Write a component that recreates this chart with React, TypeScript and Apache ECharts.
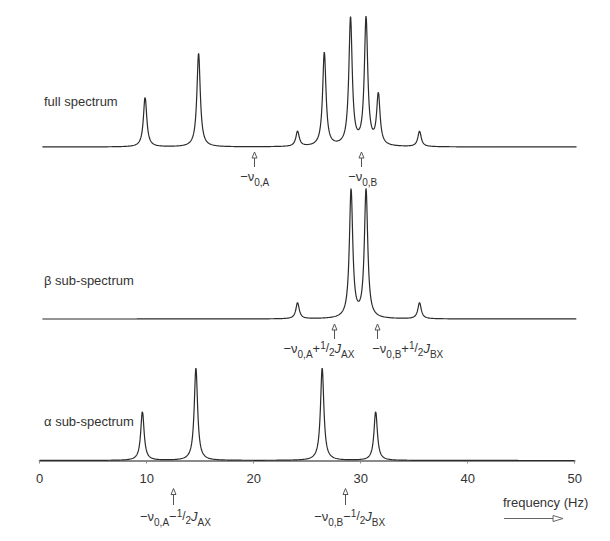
import React, { useEffect, useRef } from "react";
import * as echarts from "echarts";

// ---------- data (frequencies in Hz, intensities in arbitrary units) ----------
const xTicks = [0, 10, 20, 30, 40, 50];
const lineWidthHz = 0.19; // Lorentzian half width at half height

const fullPeakHz = [9.85, 14.85, 24.1, 26.6, 29.05, 30.5, 31.65, 35.5];
const fullPeakInt = [38.0, 71.2, 11.6, 71.6, 97.1, 97.1, 38.8, 11.8];

const betaPeakHz = [24.1, 29.1, 30.5, 35.5];
const betaPeakInt = [12.3, 97.9, 97.9, 12.3];

const alphaPeakHz = [9.6, 14.6, 26.4, 31.4];
const alphaPeakInt = [37.4, 70.3, 70.3, 37.4];

const panelNames = ["full spectrum", "β sub-spectrum", "α sub-spectrum"];

const fullMarkHz = [20, 30];
const fullMarkNucleus = ["A", "B"];
const betaMarkHz = [27.5, 31.5];
const betaMarkNucleus = ["A", "B"];
const alphaMarkHz = [12.5, 28.5];
const alphaMarkNucleus = ["A", "B"];

const axisName = "frequency (Hz)";

// ---------- helpers ----------
function spectrum(pos: number[], ints: number[], start: number, end: number) {
  const pts: number[][] = [];
  const step = 0.02;
  const n = Math.round((end - start) / step);
  for (let k = 0; k <= n; k++) {
    const x = start + k * step;
    let y = 0;
    for (let i = 0; i < pos.length; i++) {
      const d = (x - pos[i]) / lineWidthHz;
      y += ints[i] / (1 + d * d);
    }
    pts.push([+x.toFixed(3), y]);
  }
  return pts;
}

const FONT = '"Liberation Sans", Arial, Helvetica, sans-serif';
const TXT = "#333";

const tok = (size: number, lh: number, padTop: number, extra: any = {}) => ({
  fontSize: size,
  lineHeight: lh,
  padding: [padTop, 0, 0, 0],
  verticalAlign: "top",
  fontFamily: FONT,
  fill: TXT,
  color: TXT,
  ...extra,
});

const rich = {
  b: tok(13, 15, 2),
  s: tok(10, 11, 10),
  n: tok(10, 11, 1),
  sl: tok(12, 15, 2),
  d: tok(10, 11, 8),
  j: tok(13, 15, 2, { fontStyle: "italic" }),
};

function markText(nucleus: string, sign: string) {
  let t = `{b|−ν}{s|0,${nucleus}}`;
  if (sign) t += `{b|${sign}}{n|1}{sl|/}{d|2}{j|J}{s|${nucleus}X}`;
  return t;
}

function annotSeries(
  gridIdx: number,
  xs: number[],
  nuclei: string[],
  sign: string,
  tip: number,
  bottom: number,
  ty: number,
  dx: number[]
) {
  return {
    type: "custom",
    xAxisIndex: gridIdx,
    yAxisIndex: gridIdx,
    silent: true,
    clip: false,
    data: xs.map((x) => [x, 0]),
    encode: { x: 0, y: 1 },
    renderItem: (params: any, api: any) => {
      const i = params.dataIndex;
      const p = api.coord([api.value(0), 0]);
      const x = Math.round(p[0]) + 0.5;
      const y0 = p[1];
      return {
        type: "group",
        children: [
          {
            type: "line",
            shape: { x1: x, y1: y0 + tip + 6, x2: x, y2: y0 + bottom },
            style: { stroke: "#555", lineWidth: 1 },
          },
          {
            type: "polygon",
            shape: {
              points: [
                [x, y0 + tip],
                [x - 2.5, y0 + tip + 6],
                [x + 2.5, y0 + tip + 6],
              ],
            },
            style: { stroke: "#555", fill: "#fff", lineWidth: 1 },
          },
          {
            type: "text",
            x: p[0] + dx[i],
            y: y0 + ty,
            style: {
              text: markText(nuclei[i], sign),
              rich,
              align: "center",
              verticalAlign: "middle",
              fontFamily: FONT,
              fontSize: 13,
              fill: TXT,
            },
          },
        ],
      };
    },
  };
}

export default function App() {
  const ref = useRef<HTMLDivElement>(null);

  useEffect(() => {
    if (!ref.current) return;
    const chart = echarts.init(ref.current, null, { renderer: "svg" });

    const gridBase = { left: 39.7, right: 35.3, height: 144.4 };
    const hiddenX = (i: number) => ({
      type: "value",
      gridIndex: i,
      min: 0,
      max: 50,
      show: false,
    });
    const yAx = (i: number) => ({
      type: "value",
      gridIndex: i,
      min: 0,
      max: 110,
      show: false,
    });
    const lineSeries = (i: number, data: number[][]) => ({
      type: "line",
      xAxisIndex: i,
      yAxisIndex: i,
      data,
      showSymbol: false,
      symbol: "none",
      clip: false,
      silent: true,
      lineStyle: { color: "#2b2b2b", width: 1.2 },
    });
    const label = (text: string, left: number, top: number) => ({
      type: "text",
      left,
      top,
      silent: true,
      style: { text, fontSize: 13, fontFamily: FONT, fill: TXT },
    });

    chart.setOption({
      animation: false,
      backgroundColor: "#fff",
      grid: [
        { ...gridBase, top: 2.6 },
        { ...gridBase, top: 174.6 },
        { ...gridBase, top: 316.1 },
      ],
      xAxis: [
        hiddenX(0),
        hiddenX(1),
        {
          type: "value",
          gridIndex: 2,
          min: 0,
          max: 50,
          interval: 10,
          offset: 6,
          axisLine: { show: true, lineStyle: { color: "#8a8a8a", width: 2 } },
          axisTick: { show: true, length: 3, lineStyle: { color: "#8a8a8a", width: 1 } },
          axisLabel: {
            color: TXT,
            fontSize: 13,
            fontFamily: FONT,
            margin: 5,
            formatter: (v: number) => (xTicks.includes(v) ? String(v) : ""),
          },
          splitLine: { show: false },
        },
      ],
      yAxis: [yAx(0), yAx(1), yAx(2)],
      series: [
        lineSeries(0, spectrum(fullPeakHz, fullPeakInt, 0.25, 50.2)),
        lineSeries(1, spectrum(betaPeakHz, betaPeakInt, 0.25, 50.2)),
        lineSeries(2, spectrum(alphaPeakHz, alphaPeakInt, 0, 50)),
        annotSeries(0, fullMarkHz, fullMarkNucleus, "", 5, 20, 28, [1, 2]),
        annotSeries(1, betaMarkHz, betaMarkNucleus, "+", 5, 20, 28, [-15, 31]),
        annotSeries(2, alphaMarkHz, alphaMarkNucleus, "−", 28, 44.5, 54.5, [2, 5]),
      ],
      graphic: [
        label(panelNames[0], 44, 94.5),
        label(panelNames[1], 44, 273.5),
        label(panelNames[2], 44, 414.5),
        label(axisName, 503, 496),
        {
          type: "line",
          silent: true,
          shape: { x1: 504, y1: 518.5, x2: 553, y2: 518.5 },
          style: { stroke: "#666", lineWidth: 1 },
        },
        {
          type: "polygon",
          silent: true,
          shape: {
            points: [
              [553, 515.5],
              [563, 518.5],
              [553, 521.5],
            ],
          },
          style: { stroke: "#666", fill: "#fff", lineWidth: 1 },
        },
      ],
    });

    return () => chart.dispose();
  }, []);

  return (
    <div
      ref={ref}
      style={{
        position: "fixed",
        left: 0,
        top: 0,
        width: 610,
        height: 541,
        background: "#fff",
      }}
    />
  );
}
